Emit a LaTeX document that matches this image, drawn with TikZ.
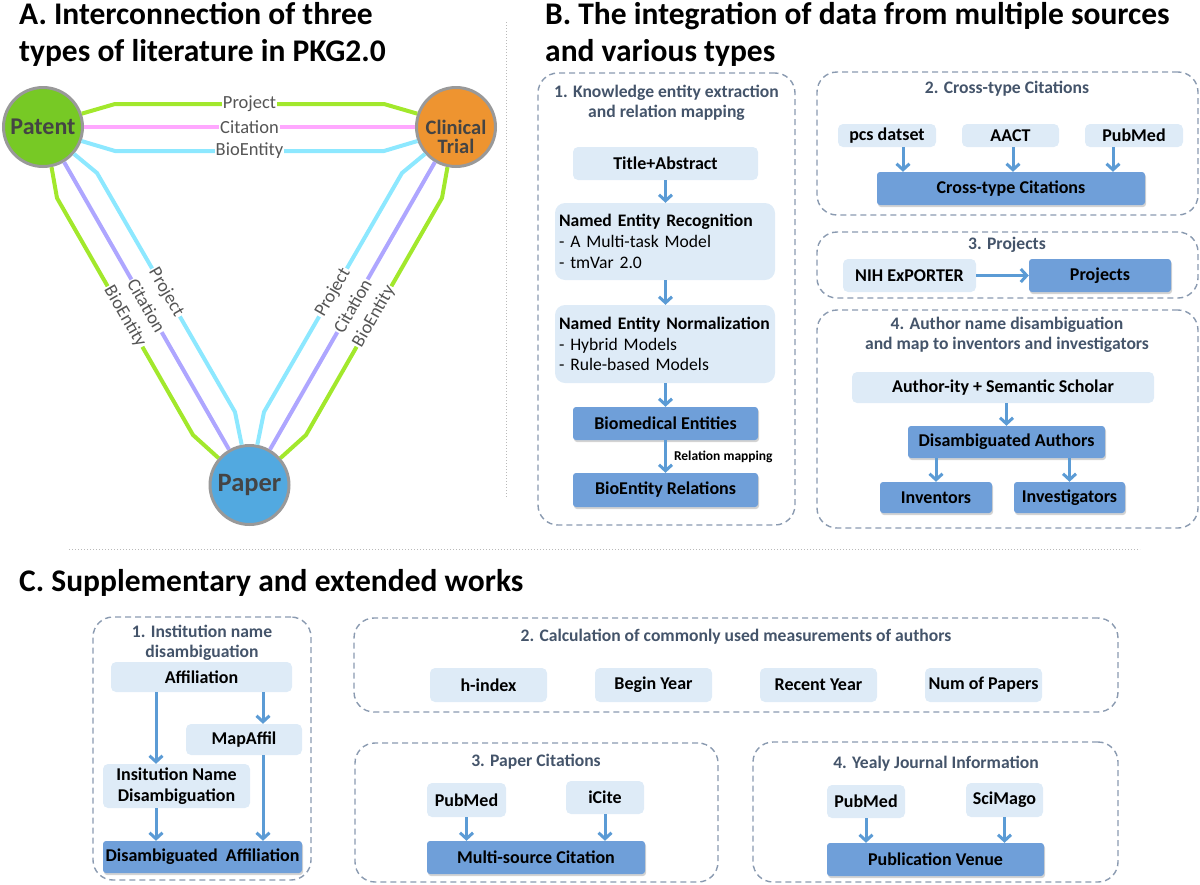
\documentclass[tikz,border=0pt]{standalone}
\usepackage{fontspec}
\setmainfont{Carlito}
\usetikzlibrary{arrows.meta,shadows,calc}
\definecolor{lbf}{HTML}{DEEBF7}
\definecolor{dbf}{HTML}{6F9FD9}
\definecolor{arc}{HTML}{5B9BD5}
\definecolor{dsh}{HTML}{8A9AB0}
\definecolor{ttl}{HTML}{44546A}
\definecolor{cgreen}{HTML}{77C925}
\definecolor{corange}{HTML}{EE9430}
\definecolor{cblue}{HTML}{52A9E0}
\definecolor{lgreen}{HTML}{A2E82C}
\definecolor{lpink}{HTML}{FFA8FF}
\definecolor{lcyan}{HTML}{8DE8FF}
\definecolor{lpurple}{HTML}{AEA6FF}
\definecolor{lbltxt}{HTML}{555555}
\definecolor{circtxt}{HTML}{444444}
\newcommand\fsz[2]{\fontsize{#1}{#2}\selectfont}
\newcommand\bx[7]{\node[#1,minimum width={(#5-#3)*1pt},minimum height={(#6-#4)*1pt}] (#2) at ({(#3+#5)/2},{(#4+#6)/2}) {#7};}
\begin{document}
\begin{tikzpicture}[x=1pt,y=-1pt,
 lbox/.style={fill=lbf, rounded corners=5pt, inner sep=0pt, font=\fsz{18}{21}\bfseries, text=black, align=center},
 dbox/.style={fill=dbf, rounded corners=3pt, inner sep=0pt, font=\fsz{18}{21}\bfseries, text=black, drop shadow={opacity=0.35,shadow xshift=1pt,shadow yshift=-2pt}},
 grp/.style={draw=dsh, dash pattern=on 6pt off 4pt, line width=1.4pt, rounded corners=20pt, inner sep=0pt},
 gttl/.style={text=ttl, font=\fsz{17.6}{20}\bfseries, align=center},
 arr/.style={draw=arc, line width=3pt, -{Straight Barb[length=6pt,width=13pt]}},
 circ/.style={circle, draw=gray!80, line width=3pt, inner sep=0pt, minimum size=79pt, text=circtxt, font=\bfseries, align=center},
 rel/.style={line width=4pt, line join=round},
 rlbl/.style={fill=white, inner sep=1pt, text=lbltxt, font=\fsz{18.5}{18.5}},
 big/.style={font=\fsz{31.5}{37}\bfseries, anchor=base west, inner sep=0pt},
 divl/.style={draw=gray!55, dotted, line width=1pt},
]
\useasboundingbox (0,0) rectangle (1200,884);
% ---------- titles
\node[big] (tA1) at (19,24) {A. Interconnection of three};
\node[big] (tA2) at (19,61) {types of literature in PKG2.0};
\node[big] (tB1) at (545,24) {B. The integration of data from multiple sources};
\node[big] (tB2) at (545,61) {and various types};
\node[big] (tC) at (19,591) {C. Supplementary and extended works};
% ---------- dividers
\draw[divl] (506,22) -- (506,498);
\draw[divl] (69,549) -- (1140,549);
% ---------- panel A
\node[circ, fill=cgreen, font=\fsz{24}{24}\bfseries] (pat) at (43,127) {Patent};
\node[circ, fill=corange] (ct) at (456,127) {};
\node[text=circtxt, font=\fsz{20.5}{19}\bfseries, align=center] (cttxt) at (456,137) {Clinical\\Trial};
\node[circ, fill=cblue, font=\fsz{26.5}{26}\bfseries] (pap) at (249.5,485) {Paper};
% horizontal
\draw[rel, lgreen] (pat.19) -- (115,104) -- node[rlbl]{Project} (384,104) -- (ct.161);
\draw[rel, lpink] (pat.0) -- node[rlbl]{Citation} (ct.180);
\draw[rel, lcyan] (pat.-20) -- (115,151) -- node[rlbl]{BioEntity} (384,151) -- (ct.-160);
% left
\draw[rel, lcyan] (pat.-41) -- (97,173) -- node[rlbl,sloped]{Project} (235,412) -- (pap.101);
\draw[rel, lpurple] (pat.-59) -- node[rlbl,sloped]{Citation} (pap.120);
\draw[rel, lgreen] (pat.-78) -- (57,198) -- node[rlbl,sloped]{BioEntity} (193,435) -- (pap.139);
% right
\draw[rel, lcyan] (pap.79) -- (264,412) -- node[rlbl,sloped]{Project} (402,173) -- (ct.-139);
\draw[rel, lpurple] (pap.60) -- node[rlbl,sloped]{Citation} (ct.-121);
\draw[rel, lgreen] (pap.41) -- (306,435) -- node[rlbl,sloped]{BioEntity} (442,198) -- (ct.-102);
% ---------- panel B group 1
\bx{grp}{g1}{538}{73}{795}{525}{}
\node[gttl] (g1t) at (666.5,103) {1. Knowledge entity extraction\\and relation mapping};
\bx{lbox}{ta}{573}{147}{758}{180}{Title+Abstract}
\node[fill=lbf, rounded corners=10pt, inner xsep=4pt, inner ysep=0pt, text width=212pt, align=left, minimum height=77pt, font=\fsz{17.6}{20.8}] (ner) at (665,241.5) {\textbf{Named Entity Recognition}\\- A Multi-task Model\\- tmVar 2.0};
\node[fill=lbf, rounded corners=10pt, inner xsep=4pt, inner ysep=0pt, text width=212pt, align=left, minimum height=78pt, font=\fsz{17.6}{20.8}] (nen) at (665,344) {\textbf{Named Entity Normalization}\\- Hybrid Models\\- Rule-based Models};
\bx{dbox}{bme}{573}{407}{758}{440}{Biomedical Entities}
\bx{dbox}{ber}{573}{473}{758}{507}{BioEntity Relations}
\draw[arr] (ta.south) -- (ta.south |- ner.north);
\draw[arr] (ner.south -| ta.south) -- (ta.south |- nen.north);
\draw[arr] (nen.south -| ta.south) -- (bme.north);
\draw[arr] (bme.south) -- node[right, xshift=7pt, inner sep=0pt, font=\fsz{13.5}{14}\bfseries]{Relation mapping} (ber.north);
% ---------- panel B group 2
\bx{grp}{g2}{817}{72}{1198}{215}{}
\node[gttl] (g2t) at (1007,89) {2. Cross-type Citations};
\bx{lbox}{pcs}{838}{124}{936}{147}{pcs datset}
\bx{lbox}{aact}{962}{124}{1059}{147}{AACT}
\bx{lbox}{pmb}{1085}{124}{1183}{147}{PubMed}
\bx{dbox}{ctc}{877}{172}{1145}{205}{Cross-type Citations}
\coordinate (xp1) at (903,0);
\coordinate (xp2) at (1013,0);
\coordinate (xp3) at (1113,0);
\draw[arr] (pcs.south -| xp1) -- (ctc.north -| xp1);
\draw[arr] (aact.south -| xp2) -- (ctc.north -| xp2);
\draw[arr] (pmb.south -| xp3) -- (ctc.north -| xp3);
% ---------- panel B group 3
\bx{grp}{g3}{817}{232}{1198}{298}{}
\node[gttl] (g3t) at (1007,245) {3. Projects};
\bx{lbox}{nih}{843}{259}{976}{292}{NIH ExPORTER}
\bx{dbox}{proj}{1029}{259}{1171}{292}{Projects}
\draw[arr] (nih.east) -- (proj.west);
% ---------- panel B group 4
\bx{grp}{g4}{817}{310}{1198}{528}{}
\node[gttl] (g4t) at (1007,335) {4. Author name disambiguation\\and map to inventors and investigators};
\bx{lbox}{auth}{852}{372}{1154}{403}{Author-ity + Semantic Scholar}
\bx{dbox}{dis}{908}{426}{1105}{458}{Disambiguated Authors}
\bx{dbox}{inv}{880}{482}{992}{513}{Inventors}
\bx{dbox}{invg}{1014}{482}{1125}{513}{Investigators}
\draw[arr] (auth.south -| dis.north) -- (dis.north);
\draw[arr] (dis.south -| inv.north) -- (inv.north);
\draw[arr] (dis.south -| invg.north) -- (invg.north);
% ---------- panel C group 1
\bx{grp}{g5}{93}{617}{311}{880}{}
\node[gttl] (g5t) at (202,643) {1. Institution name\\disambiguation};
\bx{lbox}{aff}{111}{662}{292}{692}{Affiliation}
\bx{lbox}{maf}{186}{724}{302}{755}{MapAffil}
\bx{lbox}{ind}{103}{764}{250}{808}{Insitution Name\\Disambiguation}
\bx{dbox}{daf}{103}{841}{302}{873}{Disambiguated~~Affiliation}
\coordinate (xa) at (156,0);
\coordinate (xb) at (263,0);
\draw[arr] (aff.south -| xa) -- (ind.north -| xa);
\draw[arr] (aff.south -| xb) -- (maf.north -| xb);
\draw[arr] (ind.south -| xa) -- (daf.north -| xa);
\draw[arr] (maf.south -| xb) -- (daf.north -| xb);
% ---------- panel C group 2
\bx{grp}{g6}{354}{618}{1118}{712}{}
\node[gttl] (g6t) at (736,637) {2. Calculation of commonly used measurements of authors};
\bx{lbox}{hidx}{430}{668}{547}{702}{h-index}
\bx{lbox}{by}{595}{668}{712}{702}{Begin Year}
\bx{lbox}{ry}{760}{668}{877}{702}{Recent Year}
\bx{lbox}{nop}{925}{668}{1042}{702}{Num of Papers}
% ---------- panel C group 3
\bx{grp}{g7}{355}{743}{718}{882}{}
\node[gttl] (g7t) at (536,762) {3. Paper Citations};
\bx{lbox}{pm1}{427}{783}{506}{817}{PubMed}
\bx{lbox}{ic}{566}{781}{644}{814}{iCite}
\bx{dbox}{msc}{427}{841}{645}{874}{Multi-source Citation}
\draw[arr] (pm1.south) -- (pm1.south |- msc.north);
\draw[arr] (ic.south) -- (ic.south |- msc.north);
% ---------- panel C group 4
\bx{grp}{g8}{753}{742}{1118}{882}{}
\node[gttl] (g8t) at (936,764) {4. Yealy Journal Information};
\bx{lbox}{pm2}{827}{785}{905}{818}{PubMed}
\bx{lbox}{sm}{966}{783}{1043}{817}{SciMago}
\bx{dbox}{pv}{827}{843}{1044}{876}{Publication Venue}
\draw[arr] (pm2.south) -- (pm2.south |- pv.north);
\draw[arr] (sm.south) -- (sm.south |- pv.north);
\end{tikzpicture}
\end{document}
